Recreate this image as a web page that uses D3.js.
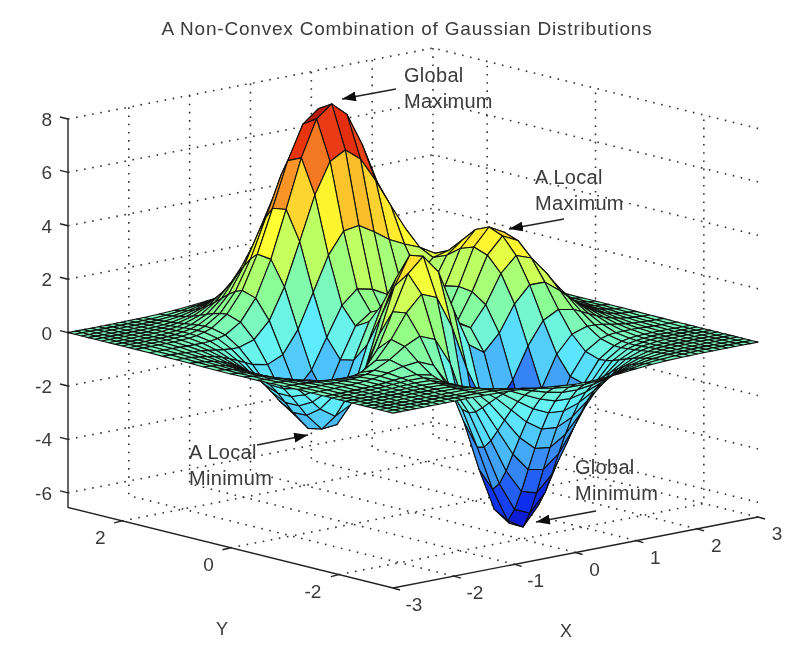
<!DOCTYPE html>
<html>
<head>
<meta charset="utf-8">
<title>A Non-Convex Combination of Gaussian Distributions</title>
<script src="https://cdn.jsdelivr.net/npm/d3@7"></script>
<style>
  html, body { margin: 0; padding: 0; background: #fff; }
  text { font-family: "Liberation Sans", Arial, sans-serif; fill: #3a3a3a; }
</style>
</head>
<body>
<div id="chartDiv"></div>
<script>
// surface grid, finer towards the edges
var gridX = [-3,-2.875,-2.75,-2.625,-2.5,-2.375,-2.25,-2.125,-2,-1.875,-1.75,-1.5,-1.25,-1,-.75,-.5,-.25,0,.25,.5,.75,1,1.25,1.5,1.75,1.875,2,2.125,2.25,2.375,2.5,2.625,2.75,2.875,3];
var gridY = gridX.slice();

// height per row (gridY) and column (gridX)
var zRows = [
[0,0,0,0,0,0,0,0,0,0,.01,0,-.01,-.03,-.08,-.14,-.2,-.25,-.25,-.22,-.17,-.11,-.06,-.03,-.01,-.01,0,0,0,0,0,0,0,0,0],
[0,0,0,0,0,0,0,0,.01,.01,.01,.01,-.01,-.06,-.13,-.24,-.34,-.42,-.43,-.38,-.28,-.19,-.1,-.05,-.02,-.01,-.01,0,0,0,0,0,0,0,0],
[0,0,0,0,0,0,0,.01,.01,.01,.01,0,-.02,-.1,-.22,-.39,-.56,-.68,-.69,-.61,-.46,-.3,-.17,-.08,-.03,-.02,-.01,-.01,0,0,0,0,0,0,0],
[0,0,0,0,0,0,.01,.01,.01,.01,.01,0,-.04,-.16,-.35,-.62,-.88,-1.06,-1.08,-.95,-.71,-.46,-.26,-.13,-.05,-.03,-.02,-.01,-.01,0,0,0,0,0,0],
[0,0,0,0,0,.01,.01,.01,.02,.02,.02,0,-.07,-.24,-.53,-.92,-1.31,-1.57,-1.61,-1.41,-1.06,-.69,-.38,-.18,-.08,-.05,-.03,-.01,-.01,0,0,0,0,0,0],
[0,0,0,0,0,.01,.01,.02,.02,.02,.03,0,-.1,-.34,-.75,-1.3,-1.86,-2.24,-2.29,-2.01,-1.51,-.98,-.55,-.26,-.11,-.06,-.04,-.02,-.01,-.01,0,0,0,0,0],
[0,0,0,0,.01,.01,.01,.02,.03,.03,.04,.01,-.12,-.44,-.99,-1.74,-2.51,-3.02,-3.1,-2.72,-2.05,-1.32,-.73,-.35,-.14,-.08,-.05,-.03,-.01,-.01,0,0,0,0,0],
[0,0,0,0,.01,.01,.02,.03,.04,.05,.05,.02,-.13,-.53,-1.23,-2.2,-3.19,-3.88,-3.99,-3.51,-2.64,-1.7,-.94,-.44,-.17,-.1,-.06,-.03,-.01,-.01,0,0,0,0,0],
[0,0,0,.01,.01,.01,.02,.03,.05,.06,.07,.05,-.13,-.59,-1.45,-2.64,-3.88,-4.76,-4.93,-4.35,-3.27,-2.1,-1.15,-.53,-.2,-.12,-.06,-.03,-.01,-.01,0,0,0,0,0],
[0,0,0,.01,.01,.02,.03,.04,.06,.08,.1,.09,-.08,-.58,-1.55,-2.94,-4.42,-5.5,-5.75,-5.09,-3.83,-2.45,-1.32,-.59,-.22,-.12,-.06,-.03,-.01,0,0,0,0,0,0],
[0,0,0,.01,.01,.02,.03,.05,.07,.1,.13,.15,.02,-.46,-1.48,-3.01,-4.7,-5.98,-6.33,-5.64,-4.24,-2.69,-1.42,-.61,-.21,-.1,-.04,-.01,0,.01,.01,.01,0,0,0],
[0,0,0,0,.01,.01,.03,.05,.08,.13,.19,.33,.39,.15,-.68,-2.18,-4.07,-5.68,-6.32,-5.76,-4.31,-2.63,-1.27,-.44,-.07,.01,.04,.05,.05,.04,.03,.02,.01,.01,0],
[0,-.01,-.01,-.01,-.01,-.02,-.01,0,.03,.08,.17,.45,.84,1.11,.88,-.14,-1.85,-3.61,-4.61,-4.4,-3.23,-1.74,-.56,.08,.27,.26,.23,.18,.13,.09,.06,.04,.02,.01,.01],
[-.01,-.02,-.02,-.04,-.06,-.08,-.1,-.12,-.13,-.11,-.04,.3,.98,1.86,2.45,2.22,1,-.72,-2.02,-2.22,-1.43,-.27,.58,.88,.77,.64,.5,.37,.26,.18,.11,.07,.04,.02,.01],
[-.02,-.03,-.05,-.08,-.12,-.18,-.26,-.34,-.42,-.49,-.51,-.28,.49,1.78,3.09,3.63,2.94,1.4,-.01,-.41,.2,1.18,1.79,1.78,1.35,1.08,.82,.59,.42,.28,.18,.11,.06,.04,.02],
[-.03,-.05,-.08,-.13,-.2,-.3,-.44,-.61,-.8,-.99,-1.16,-1.21,-.6,.8,2.49,3.55,3.3,2,.7,.39,1.14,2.2,2.76,2.56,1.88,1.48,1.12,.81,.56,.37,.24,.15,.09,.05,.03],
[-.03,-.06,-.1,-.17,-.27,-.41,-.6,-.85,-1.14,-1.46,-1.78,-2.16,-1.84,-.57,1.23,2.56,2.63,1.59,.53,.48,1.5,2.76,3.37,3.09,2.25,1.77,1.34,.96,.67,.44,.28,.17,.1,.06,.03],
[-.04,-.07,-.11,-.19,-.3,-.47,-.69,-.98,-1.33,-1.73,-2.14,-2.77,-2.71,-1.65,.06,1.48,1.75,.98,.19,.38,1.57,2.94,3.58,3.27,2.37,1.87,1.41,1.02,.7,.47,.3,.18,.11,.06,.03],
[-.04,-.06,-.11,-.18,-.29,-.45,-.68,-.96,-1.32,-1.73,-2.16,-2.87,-2.98,-2.15,-.65,.68,1.06,.52,-.03,.28,1.47,2.76,3.36,3.06,2.22,1.75,1.32,.95,.66,.44,.28,.17,.1,.06,.03],
[-.03,-.05,-.09,-.15,-.25,-.38,-.57,-.82,-1.12,-1.47,-1.85,-2.49,-2.64,-2,-.76,.39,.8,.46,.09,.38,1.34,2.38,2.83,2.56,1.85,1.45,1.09,.79,.54,.36,.23,.14,.08,.05,.03],
[-.02,-.04,-.07,-.11,-.18,-.28,-.42,-.59,-.82,-1.07,-1.33,-1.76,-1.78,-1.16,-.05,1.04,1.55,1.42,1.12,1.17,1.65,2.17,2.32,1.99,1.4,1.1,.82,.59,.41,.27,.17,.1,.06,.04,.02],
[-.01,-.02,-.04,-.07,-.11,-.17,-.25,-.36,-.48,-.61,-.74,-.86,-.6,.23,1.51,2.79,3.59,3.69,3.34,2.94,2.66,2.43,2.09,1.58,1.04,.79,.58,.41,.28,.18,.12,.07,.04,.02,.01],
[-.01,-.01,-.02,-.04,-.06,-.08,-.12,-.16,-.2,-.23,-.23,-.05,.55,1.7,3.29,4.92,6.07,6.39,5.94,5.02,3.97,2.97,2.09,1.35,.79,.58,.41,.28,.19,.12,.07,.04,.03,.01,.01],
[0,-.01,-.01,-.01,-.02,-.03,-.03,-.03,-.01,.03,.11,.48,1.27,2.61,4.37,6.19,7.54,7.99,7.48,6.25,4.72,3.25,2.05,1.19,.62,.43,.29,.19,.12,.08,.05,.03,.02,.01,0],
[0,0,0,0,0,0,.01,.03,.07,.14,.24,.65,1.43,2.68,4.29,5.96,7.22,7.68,7.2,5.99,4.45,2.96,1.78,.96,.47,.32,.21,.13,.08,.05,.03,.02,.01,.01,0],
[0,0,0,0,0,.01,.02,.04,.08,.15,.25,.62,1.33,2.44,3.87,5.35,6.48,6.89,6.46,5.37,3.97,2.62,1.55,.82,.39,.26,.17,.11,.06,.04,.02,.01,.01,0,0],
[0,0,0,0,.01,.01,.02,.04,.08,.14,.23,.55,1.16,2.1,3.31,4.56,5.51,5.86,5.5,4.57,3.37,2.21,1.29,.68,.32,.21,.13,.08,.05,.03,.02,.01,.01,0,0],
[0,0,0,0,.01,.01,.02,.04,.07,.12,.19,.46,.95,1.7,2.67,3.67,4.44,4.72,4.43,3.68,2.71,1.77,1.03,.53,.25,.16,.1,.06,.04,.02,.01,.01,0,0,0],
[0,0,0,0,.01,.01,.02,.03,.06,.1,.16,.36,.74,1.32,2.07,2.84,3.43,3.65,3.43,2.84,2.09,1.36,.79,.41,.19,.12,.08,.05,.03,.02,.01,.01,0,0,0],
[0,0,0,0,0,.01,.01,.03,.04,.07,.12,.27,.55,.98,1.53,2.09,2.53,2.69,2.53,2.1,1.54,1,.58,.3,.13,.09,.05,.03,.02,.01,.01,0,0,0,0],
[0,0,0,0,0,.01,.01,.02,.03,.05,.08,.19,.39,.69,1.07,1.47,1.77,1.89,1.77,1.47,1.08,.7,.4,.21,.09,.06,.04,.02,.01,.01,0,0,0,0,0],
[0,0,0,0,0,0,.01,.01,.02,.04,.06,.13,.26,.46,.72,.99,1.19,1.27,1.19,.99,.73,.47,.27,.14,.06,.04,.03,.02,.01,.01,0,0,0,0,0],
[0,0,0,0,0,0,.01,.01,.01,.02,.04,.08,.17,.3,.47,.64,.77,.82,.77,.64,.47,.3,.17,.09,.04,.03,.02,.01,.01,0,0,0,0,0,0],
[0,0,0,0,0,0,0,.01,.01,.02,.02,.05,.11,.19,.29,.39,.47,.51,.47,.39,.29,.19,.11,.05,.02,.02,.01,.01,0,0,0,0,0,0,0],
[0,0,0,0,0,0,0,0,.01,.01,.01,.03,.06,.11,.17,.23,.28,.3,.28,.23,.17,.11,.06,.03,.01,.01,.01,0,0,0,0,0,0,0,0]
];

var xTicks = [-3, -2, -1, 0, 1, 2, 3];
var yTicks = [-2, 0, 2];
var zTicks = [-6, -4, -2, 0, 2, 4, 6, 8];

var titleText = "A Non-Convex Combination of Gaussian Distributions";

var zMin = -6.55, zMax = 8.11, zTop = 8;
var width = 800, height = 648;

// oblique view: each data axis adds its own screen offset
var xToScreenX = d3.scaleLinear().domain([-3, 3]).range([0, 365]);
var xToScreenY = d3.scaleLinear().domain([-3, 3]).range([0, -71]);
var yToScreenX = d3.scaleLinear().domain([-3, 3]).range([393, 68]);
var yToScreenY = d3.scaleLinear().domain([-3, 3]).range([588, 507.5]);
var zToScreenY = d3.scaleLinear().domain([zMin, zTop]).range([0, -388.5]);

function project(x, y, z) {
    return [xToScreenX(x) + yToScreenX(y),
            xToScreenY(x) + yToScreenY(y) + zToScreenY(z)];
}

// jet colormap, a little washed out like the reference
var jet = d3.scaleLinear()
    .domain([0, .125, .25, .375, .5, .625, .75, .875, 1].map(function(t) { return zMin + t * (zMax - zMin); }))
    .range(["#0000b0", "#1030f0", "#3c96f5", "#60f0ff", "#90ff88", "#ffff30", "#f89028", "#e83010", "#a01010"])
    .interpolate(d3.interpolateRgb)
    .clamp(true);

var line3d = d3.line();

var svg = d3.select("#chartDiv")
    .append("svg")
    .attr("width", width)
    .attr("height", height)
    .style("display", "block");

var defs = svg.append("defs");
defs.append("filter")
    .attr("id", "soft")
    .attr("filterUnits", "userSpaceOnUse")
    .attr("x", 0).attr("y", 0).attr("width", width).attr("height", height)
    .append("feGaussianBlur")
    .attr("stdDeviation", 0.7);
defs.append("marker")
    .attr("id", "head")
    .attr("viewBox", "0 0 14 10")
    .attr("refX", 14).attr("refY", 5)
    .attr("markerUnits", "userSpaceOnUse")
    .attr("markerWidth", 14).attr("markerHeight", 10)
    .attr("orient", "auto")
    .append("path")
    .attr("d", "M0,0L14,5L0,10Z")
    .attr("fill", "#111");

var root = svg.append("g").attr("filter", "url(#soft)");

// dotted grid on the two back walls and the floor
var gridLayer = root.append("g")
    .attr("fill", "none")
    .attr("stroke", "#333")
    .attr("stroke-width", 1.6)
    .attr("stroke-dasharray", "1.6 6.6");

function gridPath(points) {
    gridLayer.append("path").attr("d", line3d(points.map(function(p) { return project(p[0], p[1], p[2]); })));
}

zTicks.forEach(function(z) {
    gridPath([[-3, 3, z], [3, 3, z], [3, -3, z]]);
});
xTicks.forEach(function(x) {
    if (x > -3) gridPath([[x, -3, zMin], [x, 3, zMin], [x, 3, zTop]]);
});
yTicks.forEach(function(y) {
    gridPath([[-3, y, zMin], [3, y, zMin], [3, y, zTop]]);
});

// solid axis lines
var axisLayer = root.append("g")
    .attr("fill", "none")
    .attr("stroke", "#222")
    .attr("stroke-width", 1.4);

axisLayer.append("path").attr("d", line3d([
    project(-3, 3, zTop), project(-3, 3, zMin), project(-3, -3, zMin), project(3, -3, zMin)
]));

zTicks.forEach(function(z) {
    var p = project(-3, 3, z);
    axisLayer.append("path").attr("d", line3d([p, [p[0] - 8, p[1] - 2]]));
    root.append("text")
        .attr("x", p[0] - 16)
        .attr("y", p[1] + 7)
        .attr("text-anchor", "end")
        .attr("font-size", 19)
        .text(z);
});

xTicks.forEach(function(x) {
    var p = project(x, -3, zMin);
    axisLayer.append("path").attr("d", line3d([p, [p[0] + 7, p[1] + 2]]));
    root.append("text")
        .attr("x", p[0] + (x < 0 ? 21 : 19))
        .attr("y", p[1] + 23)
        .attr("text-anchor", "middle")
        .attr("font-size", 19)
        .text(x);
});

yTicks.forEach(function(y) {
    var p = project(-3, y, zMin);
    axisLayer.append("path").attr("d", line3d([p, [p[0] - 8, p[1] + 2]]));
    root.append("text")
        .attr("x", p[0] - (y < 0 ? 26 : 22))
        .attr("y", p[1] + 23)
        .attr("text-anchor", "middle")
        .attr("font-size", 19)
        .text(y);
});

root.append("text").attr("x", 566).attr("y", 637).attr("text-anchor", "middle").attr("font-size", 18).text("X");
root.append("text").attr("x", 222).attr("y", 635).attr("text-anchor", "middle").attr("font-size", 18).text("Y");

// surface cells, far corner first so nearer cells paint over
var cells = [];
for (var j = gridY.length - 2; j >= 0; j--) {
    for (var i = gridX.length - 2; i >= 0; i--) {
        cells.push({ i: i, j: j, z: zRows[j][i] });
    }
}

root.append("g")
    .attr("stroke", "#101010")
    .attr("stroke-width", 1.1)
    .attr("stroke-linejoin", "round")
    .selectAll("path")
    .data(cells)
    .enter()
    .append("path")
    .attr("fill", function(d) { return jet(d.z); })
    .attr("d", function(d) {
        return line3d([
            project(gridX[d.i], gridY[d.j], zRows[d.j][d.i]),
            project(gridX[d.i + 1], gridY[d.j], zRows[d.j][d.i + 1]),
            project(gridX[d.i + 1], gridY[d.j + 1], zRows[d.j + 1][d.i + 1]),
            project(gridX[d.i], gridY[d.j + 1], zRows[d.j + 1][d.i])
        ]) + "Z";
    });

root.append("text")
    .attr("x", 407)
    .attr("y", 35)
    .attr("text-anchor", "middle")
    .attr("font-size", 19)
    .attr("letter-spacing", 0.8)
    .text(titleText);

// callouts
var callouts = [
    { lines: ["Global", "Maximum"], x: 404, y: 82, arrow: [396, 89, 342, 99] },
    { lines: ["A Local", "Maximum"], x: 535, y: 184, arrow: [564, 219, 509, 229] },
    { lines: ["A Local", "Minimum"], x: 189, y: 459, arrow: [257, 445, 308, 435] },
    { lines: ["Global", "Minimum"], x: 575, y: 474, arrow: [596, 511, 536, 522] }
];

callouts.forEach(function(c) {
    root.append("path")
        .attr("d", line3d([[c.arrow[0], c.arrow[1]], [c.arrow[2], c.arrow[3]]]))
        .attr("stroke", "#222")
        .attr("stroke-width", 1.3)
        .attr("fill", "none")
        .attr("marker-end", "url(#head)");
    c.lines.forEach(function(t, k) {
        root.append("text")
            .attr("x", c.x)
            .attr("y", c.y + k * 26)
            .attr("font-size", 20)
            .attr("letter-spacing", 0.3)
            .text(t);
    });
});
</script>
</body>
</html>
